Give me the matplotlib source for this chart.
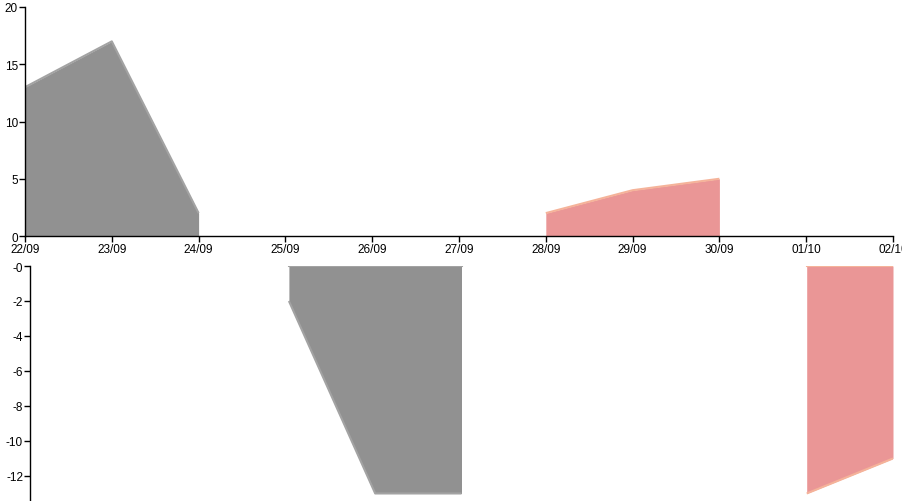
import numpy as np
import matplotlib.pyplot as plt
from matplotlib.ticker import FuncFormatter

plt.rcParams['font.family'] = ['Liberation Sans', 'DejaVu Sans']
plt.rcParams['font.size'] = 8.5

days = ['22/09', '23/09', '24/09', '25/09', '26/09', '27/09',
        '28/09', '29/09', '30/09', '01/10', '02/10']

# upper panel (positive values)
grey_up_x = [0, 1, 2]
grey_up_y = [13, 17, 2]
red_up_x = [6, 7, 8]
red_up_y = [2, 4, 5]

# lower panel (negative values)
grey_dn_x = [3, 4, 5]
grey_dn_y = [-2, -13, -13]
red_dn_x = [9, 10]
red_dn_y = [-13, -11]

grey_fill, grey_edge = '#919191', '#a3a3a3'
red_fill, red_edge = '#ea9696', '#f5b39a'

W, H = 903, 502
fig = plt.figure(figsize=(W / 100, H / 100), dpi=100)

ax1 = fig.add_axes([25 / W, (H - 237) / H, (893 - 25) / W, (237 - 8) / H])
ax2 = fig.add_axes([30 / W, 0, (893 - 30) / W, (H - 267) / H])

def area(ax, x, y, fill, edge):
    ax.fill_between(x, 0, y, color=fill, lw=0)
    ax.plot(x, y, color=edge, lw=1.5, solid_capstyle='butt')

area(ax1, grey_up_x, grey_up_y, grey_fill, grey_edge)
area(ax1, red_up_x, red_up_y, red_fill, red_edge)
area(ax2, grey_dn_x, grey_dn_y, grey_fill, grey_edge)
area(ax2, red_dn_x, red_dn_y, red_fill, red_edge)
ax2.plot(grey_dn_x[::len(grey_dn_x) - 1], [0, 0], color=grey_edge, lw=1.5)
ax2.plot(red_dn_x, [0, 0], color=red_edge, lw=1.5)

ax1.set_xlim(0, 10)
ax1.set_ylim(0, 20)
ax1.set_xticks(range(len(days)))
ax1.set_xticklabels(days)
ax1.set_yticks([0, 5, 10, 15, 20])
for s in ['top', 'right']:
    ax1.spines[s].set_visible(False)

ax2.set_xlim(0, 10)
ax2.set_ylim(-13.43, 0)
ax2.set_yticks([0, -2, -4, -6, -8, -10, -12])
ax2.yaxis.set_major_formatter(FuncFormatter(lambda v, p: '-%d' % abs(v)))
ax2.set_xticks([])
for s in ['top', 'right', 'bottom']:
    ax2.spines[s].set_visible(False)

for ax in (ax1, ax2):
    ax.patch.set_alpha(0)
    ax.tick_params(length=4, width=1, pad=1, colors='black')
    for s in ax.spines.values():
        s.set_linewidth(1)

fig.savefig('out.png', dpi=100)
